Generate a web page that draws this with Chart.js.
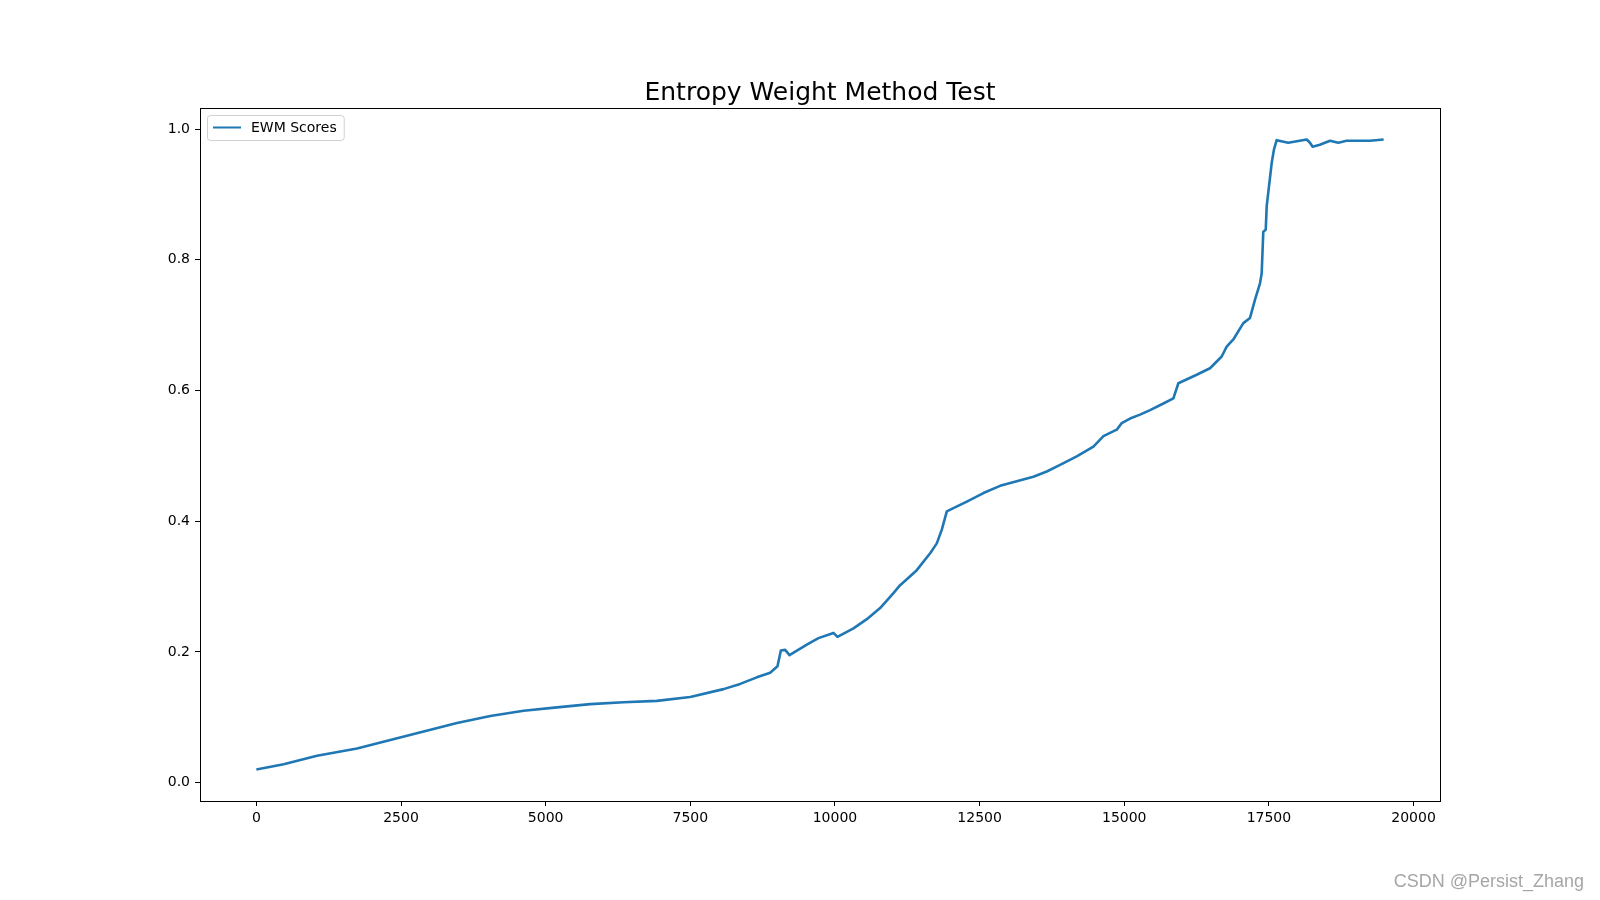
<!DOCTYPE html>
<html>
<head>
<meta charset="utf-8">
<script src="https://cdn.jsdelivr.net/npm/chart.js@4.4.1/dist/chart.umd.min.js"></script>
<style>
  html, body { margin: 0; padding: 0; background: #fff; }
  #wrap { width: 1600px; height: 900px; }
</style>
</head>
<body>
<div id="wrap"><canvas id="ewmChart" width="1600" height="900"></canvas></div>
<script>
// sample index and EWM score
const sampleIdx = [
    0, 472, 1048, 1740, 2315, 2891, 3467, 4043, 4619, 5195,
    5771, 6346, 6922, 7498, 8074, 8362, 8650, 8880, 9007, 9065,
    9140, 9214, 9514, 9715, 9974, 10043, 10320, 10551, 10781, 11011,
    11126, 11242, 11414, 11645, 11760, 11847, 11933, 12048, 12279, 12566,
    12854, 13142, 13430, 13661, 13891, 14179, 14467, 14640, 14870, 14956,
    15100, 15273, 15446, 15676, 15849, 15935, 16252, 16482, 16684, 16770,
    16885, 17058, 17173, 17260, 17346, 17375, 17403, 17445, 17462, 17548,
    17588, 17634, 17835, 18153, 18210, 18256, 18380, 18556, 18700, 18840,
    19247, 19483
];
const ewmScores = [
    0.020, 0.028, 0.041, 0.052, 0.065, 0.078, 0.091, 0.102, 0.110, 0.115,
    0.120, 0.123, 0.125, 0.131, 0.143, 0.151, 0.161, 0.168, 0.178, 0.202,
    0.203, 0.195, 0.211, 0.221, 0.229, 0.223, 0.236, 0.250, 0.267, 0.290,
    0.302, 0.311, 0.325, 0.351, 0.366, 0.387, 0.415, 0.420, 0.430, 0.443,
    0.454, 0.461, 0.468, 0.476, 0.486, 0.499, 0.514, 0.530, 0.540, 0.550,
    0.557, 0.563, 0.570, 0.580, 0.588, 0.611, 0.624, 0.634, 0.652, 0.667,
    0.678, 0.703, 0.711, 0.739, 0.764, 0.779, 0.843, 0.846, 0.882, 0.948,
    0.969, 0.983, 0.979, 0.984, 0.979, 0.973, 0.976, 0.982, 0.979, 0.982,
    0.982, 0.984
];
const xTicks = [0, 2500, 5000, 7500, 10000, 12500, 15000, 17500, 20000];
const yTicks = [0.0, 0.2, 0.4, 0.6, 0.8, 1.0];
const seriesLabel = 'EWM Scores';
const chartTitle = 'Entropy Weight Method Test';
const watermark = 'CSDN @Persist_Zhang';

const FONT = "'DejaVu Sans', sans-serif";
const lineColor = '#1f77b4';

// frame, title, legend and watermark drawn like matplotlib does
const mplDecor = {
    id: 'mplDecor',
    afterDraw(chart) {
        const { ctx, chartArea } = chart;
        ctx.save();
        ctx.strokeStyle = '#000';
        ctx.lineWidth = 1;
        ctx.strokeRect(Math.round(chartArea.left) + 0.5, Math.round(chartArea.top) + 0.5,
            Math.round(chartArea.right - chartArea.left), Math.round(chartArea.bottom - chartArea.top));

        ctx.fillStyle = '#000';
        ctx.font = '25px ' + FONT;
        ctx.textAlign = 'center';
        ctx.textBaseline = 'alphabetic';
        ctx.fillText(chartTitle, (chartArea.left + chartArea.right) / 2, chartArea.top - 8);

        // legend box, upper left
        const ds = chart.data.datasets[0];
        const bx = chartArea.left + 7, by = chartArea.top + 7;
        ctx.font = '14px ' + FONT;
        const tw = ctx.measureText(ds.label).width;
        const bw = 45 + tw + 6, bh = 25;
        ctx.beginPath();
        ctx.roundRect(bx + 0.5, by + 0.5, bw, bh, 3);
        ctx.fillStyle = 'rgba(255,255,255,0.8)';
        ctx.fill();
        ctx.strokeStyle = '#d0d0d0';
        ctx.stroke();
        ctx.beginPath();
        ctx.moveTo(bx + 6, by + 12.5);
        ctx.lineTo(bx + 34, by + 12.5);
        ctx.strokeStyle = ds.borderColor;
        ctx.lineWidth = 2;
        ctx.stroke();
        ctx.fillStyle = '#000';
        ctx.textAlign = 'left';
        ctx.textBaseline = 'middle';
        ctx.fillText(ds.label, bx + 44, by + 13);

        ctx.font = '18px ' + "'Liberation Sans', sans-serif";
        ctx.fillStyle = '#a6a6a6';
        ctx.textAlign = 'right';
        ctx.fillText(watermark, 1584, 882);
        ctx.restore();
    }
};

const canvas = document.getElementById('ewmChart');
new Chart(canvas, {
    type: 'line',
    data: {
        datasets: [{
            label: seriesLabel,
            data: sampleIdx.map((x, i) => ({ x: x, y: ewmScores[i] })),
            borderColor: lineColor,
            borderWidth: 2.6,
            borderJoinStyle: 'round',
            pointRadius: 0,
            tension: 0,
            fill: false
        }]
    },
    options: {
        responsive: false,
        devicePixelRatio: 1,
        animation: false,
        layout: { padding: { top: 108, right: 160, left: 0, bottom: 0 } },
        plugins: {
            legend: { display: false },
            tooltip: { enabled: false }
        },
        scales: {
            x: {
                type: 'linear',
                min: -974,
                max: 20457,
                afterBuildTicks: s => { s.ticks = xTicks.map(v => ({ value: v })); },
                afterFit: s => { s.height = 99; },
                grid: { drawOnChartArea: false, drawTicks: true, tickLength: 5, color: '#000' },
                border: { display: true, color: '#000' },
                ticks: {
                    color: '#000',
                    font: { family: FONT, size: 14 },
                    padding: 4,
                    maxRotation: 0,
                    callback: v => String(v)
                }
            },
            y: {
                type: 'linear',
                min: -0.0282,
                max: 1.0322,
                afterBuildTicks: s => { s.ticks = yTicks.map(v => ({ value: v })); },
                afterFit: s => { s.width = 200; },
                grid: { drawOnChartArea: false, drawTicks: true, tickLength: 5, color: '#000' },
                border: { display: true, color: '#000' },
                ticks: {
                    color: '#000',
                    font: { family: FONT, size: 14 },
                    padding: 5,
                    callback: v => v.toFixed(1)
                }
            }
        }
    },
    plugins: [mplDecor]
});
</script>
</body>
</html>
